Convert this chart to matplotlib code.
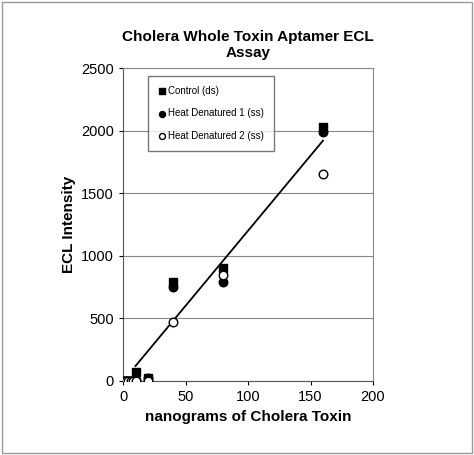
import matplotlib
matplotlib.use("Agg")
import matplotlib.pyplot as plt
plt.rcParams['font.family'] = ['Liberation Sans', 'DejaVu Sans']

x = [0, 2, 4, 6, 8, 10, 20, 40, 80, 160]
control = [0, 0, 0, 0, 0, 70, 20, 790, 900, 2030]
hd1 = [0, 0, 0, 0, 0, 5, 25, 750, 790, 1990]
hd2 = [0, 0, 0, 0, 0, 0, 0, 470, 850, 1650]
fit_x = [10, 160]
fit_y = [120, 1920]

fig = plt.figure(figsize=(4.74, 4.55), dpi=100)
fig.patches.append(plt.Rectangle((0.005, 0.005), 0.99, 0.99, transform=fig.transFigure,
                                 fill=False, edgecolor='#999999', lw=1))
ax = fig.add_axes([123/474, 1-381/455, 250/474, 313/455])
ax.set_xlim(0, 200)
ax.set_ylim(0, 2500)
ax.set_xticks([0, 50, 100, 150, 200])
ax.set_yticks([0, 500, 1000, 1500, 2000, 2500])
ax.yaxis.grid(True, color='#888888', lw=0.8)
ax.set_axisbelow(True)
for s in ['top', 'right']:
    ax.spines[s].set_color('#888888')
ax.spines['left'].set_color('#555555')
ax.spines['bottom'].set_color('#555555')
ax.tick_params(labelsize=10.5, length=3)

ax.plot(fit_x, fit_y, color='black', lw=1.3)
ax.scatter(x, control, marker='s', s=38, color='black', label='Control (ds)', zorder=3)
ax.scatter(x, hd1, marker='o', s=38, color='black', label='Heat Denatured 1 (ss)', zorder=3)
ax.scatter(x, hd2, marker='o', s=38, facecolor='white', edgecolor='black', label='Heat Denatured 2 (ss)', zorder=3)

leg = ax.legend(loc='upper left', bbox_to_anchor=(0.08, 0.99), fontsize=7, frameon=True,
                fancybox=False, edgecolor='#555555', handletextpad=0.1, markerscale=0.7,
                borderpad=1.0, labelspacing=1.3, handlelength=1)

ax.set_title('Cholera Whole Toxin Aptamer ECL\nAssay', fontsize=11, fontweight='bold', pad=8)
ax.set_xlabel('nanograms of Cholera Toxin', fontsize=11, fontweight='bold')
ax.set_ylabel('ECL Intensity', fontsize=11, fontweight='bold')
fig.savefig('out.png', dpi=100)
